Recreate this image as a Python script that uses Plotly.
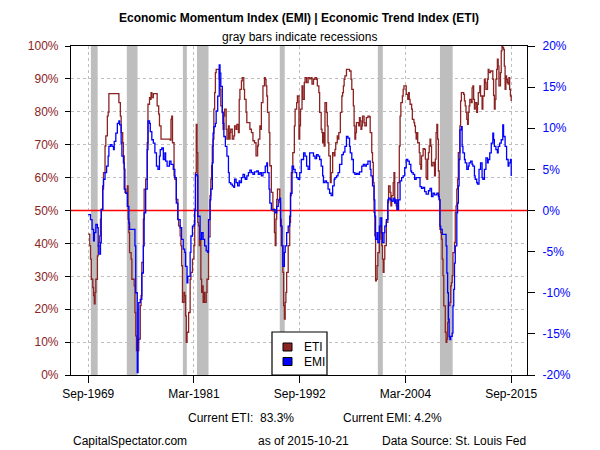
import pandas as pd
import plotly.graph_objects as go

# ---- data (monthly, %), turning points only ----
eti_dates = [
    "1969-09", "1969-11", "1969-12",
    "1970-01", "1970-03", "1970-04", "1970-05", "1970-06", "1970-07", "1970-09", "1970-10", "1970-11", "1970-12",
    "1971-01", "1971-02", "1971-04", "1971-05", "1971-07", "1971-08", "1971-10", "1971-11", "1971-12",
    "1972-12",
    "1973-01", "1973-03", "1973-04", "1973-06", "1973-07", "1973-08", "1973-09", "1973-12",
    "1974-01", "1974-02", "1974-03", "1974-05", "1974-06", "1974-09", "1974-10", "1974-11", "1974-12",
    "1975-01", "1975-03", "1975-04", "1975-05", "1975-06", "1975-07", "1975-09", "1975-10", "1975-12",
    "1976-01", "1976-02", "1976-03", "1976-04", "1976-05", "1976-06", "1976-07", "1976-08", "1976-10",
    "1977-02", "1977-03", "1977-05", "1977-06", "1977-08",
    "1978-08", "1978-09", "1978-10", "1978-11",
    "1979-01", "1979-02", "1979-04", "1979-06", "1979-07", "1979-09", "1979-10", "1979-11", "1979-12",
    "1980-02", "1980-03", "1980-04", "1980-05", "1980-06", "1980-08", "1980-10", "1980-11",
    "1981-01", "1981-03", "1981-04", "1981-05", "1981-06", "1981-07", "1981-08", "1981-09", "1981-10", "1981-11", "1981-12",
    "1982-01", "1982-02", "1982-03", "1982-04", "1982-05", "1982-07", "1982-08", "1982-10", "1982-12",
    "1983-01", "1983-02", "1983-03", "1983-04", "1983-05", "1983-06", "1983-07", "1983-08", "1983-11", "1983-12",
    "1984-01", "1984-02", "1984-04", "1984-05", "1984-06", "1984-07", "1984-09", "1984-10", "1984-12",
    "1985-01", "1985-02", "1985-03", "1985-05", "1985-07", "1985-08", "1985-10", "1985-11",
    "1986-01", "1986-02", "1986-03", "1986-05", "1986-06", "1986-08", "1986-09", "1986-11", "1986-12",
    "1987-02", "1987-04", "1987-06", "1987-08", "1987-10", "1987-12",
    "1988-02", "1988-03", "1988-05", "1988-06", "1988-07", "1988-09", "1988-11", "1988-12",
    "1989-01", "1989-02", "1989-03", "1989-05", "1989-06", "1989-08", "1989-10", "1989-11", "1989-12",
    "1990-01", "1990-02", "1990-03", "1990-04", "1990-06", "1990-07", "1990-08", "1990-09", "1990-11", "1990-12",
    "1991-01", "1991-02", "1991-03", "1991-04", "1991-06", "1991-08", "1991-09", "1991-10", "1991-12",
    "1992-02", "1992-03", "1992-05", "1992-06", "1992-08", "1992-09", "1992-10", "1992-12",
    "1993-01", "1993-03", "1993-04", "1993-06", "1993-08", "1993-10", "1993-12",
    "1994-01", "1994-03", "1994-05", "1994-07", "1994-08", "1994-10", "1994-11",
    "1995-01", "1995-02", "1995-03", "1995-04", "1995-05", "1995-06", "1995-08", "1995-09", "1995-10", "1995-11",
    "1996-01", "1996-02", "1996-04", "1996-06", "1996-07", "1996-08", "1996-10", "1996-11", "1996-12",
    "1997-02", "1997-04", "1997-05", "1997-06", "1997-07", "1997-08", "1997-10",
    "1998-01", "1998-02", "1998-04", "1998-05", "1998-07", "1998-08", "1998-09", "1998-10", "1998-11", "1998-12",
    "1999-02", "1999-03", "1999-04", "1999-05", "1999-06", "1999-07", "1999-08", "1999-09", "1999-10", "1999-12",
    "2000-02", "2000-04", "2000-05", "2000-07", "2000-08", "2000-09", "2000-10", "2000-11", "2000-12",
    "2001-01", "2001-02", "2001-03", "2001-05", "2001-06", "2001-07", "2001-08", "2001-09", "2001-10", "2001-11", "2001-12",
    "2002-02", "2002-04", "2002-05", "2002-07", "2002-08", "2002-09", "2002-11", "2002-12",
    "2003-01", "2003-03", "2003-04", "2003-05", "2003-07", "2003-08", "2003-09", "2003-11", "2003-12",
    "2004-01", "2004-03", "2004-04", "2004-06", "2004-07", "2004-08", "2004-09", "2004-11", "2004-12",
    "2005-02", "2005-03", "2005-04", "2005-05", "2005-06", "2005-07", "2005-09", "2005-10", "2005-11", "2005-12",
    "2006-02", "2006-04", "2006-05", "2006-06", "2006-07", "2006-08", "2006-09", "2006-10", "2006-11", "2006-12",
    "2007-01", "2007-03", "2007-05", "2007-06", "2007-07", "2007-08", "2007-09", "2007-10", "2007-11", "2007-12",
    "2008-01", "2008-02", "2008-03", "2008-04", "2008-05", "2008-07", "2008-08", "2008-09", "2008-10", "2008-11",
    "2009-01", "2009-02", "2009-03", "2009-04", "2009-05", "2009-07", "2009-08", "2009-09", "2009-10", "2009-11", "2009-12",
    "2010-02", "2010-03", "2010-04", "2010-05", "2010-07", "2010-08", "2010-09", "2010-10", "2010-11", "2010-12",
    "2011-01", "2011-02", "2011-03", "2011-05", "2011-06", "2011-07", "2011-08", "2011-09", "2011-10", "2011-12",
    "2012-01", "2012-02", "2012-04", "2012-05", "2012-07", "2012-08", "2012-10", "2012-11", "2012-12",
    "2013-02", "2013-03", "2013-04", "2013-06", "2013-07", "2013-09", "2013-10", "2013-11", "2013-12",
    "2014-01", "2014-02", "2014-03", "2014-04", "2014-05", "2014-07", "2014-08", "2014-09", "2014-10", "2014-11", "2014-12",
    "2015-01", "2015-02", "2015-03", "2015-04", "2015-05", "2015-06", "2015-07", "2015-08", "2015-09",
]
eti_values = [
    42.8, 39.3, 35.2,
    29.1, 26.6, 24.1, 21.6, 25.1, 29.1, 36.2, 39.3, 40.3, 42.3,
    47.4, 50.4, 56.5, 61.5, 69.6, 72.7, 78.7, 79.8, 85.5,
    85.5,
    82.8, 78.7, 73.7, 70.6, 66.6, 62.6, 55.5, 57.5,
    47.4, 43.3, 37.2, 35.2, 29.1, 27.1, 19.0, 11.9, 7.4,
    7.4, 10.9, 10.9, 21.1, 24.1, 34.2, 47.4, 56.5, 59.5,
    59.5, 70.6, 82.3, 82.3, 84.3, 83.8, 85.8, 84.3, 85.5,
    85.5, 81.8, 79.3, 75.7, 71.7,
    71.4, 77.7, 78.7, 70.6,
    60.5, 59.5, 53.4, 47.4, 45.3, 42.3, 39.3, 33.2, 22.1,
    25.1, 24.1, 18.0, 9.9, 13.0, 19.0, 29.1, 31.2,
    35.2, 39.3, 50.4, 61.5, 76.2, 67.6, 46.4, 45.3, 39.3, 41.3, 29.1,
    25.1, 27.1, 22.1, 25.1, 22.1, 25.1, 29.1, 42.0, 54.5,
    59.5, 63.6, 69.6, 71.7, 80.8, 85.8, 91.9, 92.9, 92.9, 89.9,
    86.8, 81.8, 79.8, 74.7, 78.7, 80.8, 74.7, 71.7, 75.7,
    71.7, 73.7, 74.7, 71.7, 72.7, 75.7, 74.7, 76.2,
    73.7, 83.8, 86.8, 89.4, 90.4, 86.8, 83.8, 79.8, 76.7,
    76.7, 74.7, 73.7, 71.2, 70.6, 66.6,
    69.6, 71.7, 75.7, 74.7, 82.8, 87.9, 90.4, 89.9,
    87.9, 84.8, 79.8, 73.7, 63.6, 55.5, 49.9, 50.4, 43.3,
    39.3, 47.4, 53.4, 56.5, 56.5, 52.4, 47.4, 39.3, 31.2, 21.1,
    17.0, 22.1, 25.1, 31.2, 39.3, 46.4, 54.5, 61.5, 67.6,
    75.7, 80.8, 82.8, 84.8, 71.7, 75.7, 80.8, 87.9,
    83.8, 88.9, 90.4, 88.9, 90.4, 90.0, 90.4,
    88.4, 89.9, 90.4, 89.9, 87.9, 85.8, 79.8,
    74.7, 73.7, 70.6, 73.7, 69.6, 82.8, 79.8, 75.7, 70.6, 66.6,
    58.5, 61.5, 67.6, 66.6, 68.6, 70.6, 72.7, 71.7, 73.7,
    79.8, 84.8, 85.8, 87.9, 89.9, 90.9, 92.9,
    92.9, 92.4, 89.9, 86.8, 81.8, 75.7, 71.7, 73.7, 76.7, 76.7,
    75.7, 78.2, 77.2, 74.7, 75.7, 78.7, 78.7, 76.7, 75.7, 78.2,
    78.7, 78.5, 73.7, 67.6, 64.6, 58.5, 49.4, 42.3, 28.6,
    29.1, 33.2, 37.2, 41.3, 45.3, 43.3, 39.3, 35.2, 31.2, 35.2, 39.3,
    46.4, 52.4, 57.5, 55.5, 51.4, 54.5, 58.5, 61.5,
    52.4, 51.4, 50.4, 58.5, 69.6, 78.7, 82.8, 84.8, 86.8,
    87.9, 87.9, 85.3, 83.8, 85.8, 83.8, 82.3, 80.8, 77.7,
    76.7, 75.7, 73.7, 71.7, 73.7, 70.6, 67.6, 64.0, 62.6, 66.6,
    68.8, 68.6, 65.6, 60.0, 59.5, 65.6, 67.6, 69.6, 71.7, 69.6,
    63.6, 64.6, 60.5, 65.6, 73.7, 76.2, 71.7, 62.0, 53.4, 44.3,
    43.3, 41.3, 35.2, 30.2, 21.0, 13.0, 9.9, 10.9, 16.0, 21.1,
    22.1, 27.1, 28.1, 30.2, 37.2, 40.3, 49.4, 51.4, 56.5, 59.5, 67.6,
    75.7, 83.3, 85.8, 85.8, 85.3, 83.3, 81.8, 79.8, 77.7, 76.2,
    79.8, 81.8, 83.8, 82.8, 87.3, 87.9, 83.8, 80.8, 82.8, 79.8,
    82.3, 85.8, 87.9, 84.8, 80.8, 84.8, 89.9, 88.9, 86.8,
    89.9, 92.9, 91.9, 92.4, 92.4, 89.9, 85.0, 80.8, 83.8,
    89.9, 92.9, 96.0, 93.9, 87.9, 91.9, 98.5, 100.0, 99.5, 99.0, 93.9,
    86.8, 90.9, 89.9, 88.9, 88.4, 90.4, 86.8, 84.8, 83.3,
]

emi_dates = [
    "1969-09", "1969-12",
    "1970-02", "1970-04", "1970-05", "1970-07", "1970-09", "1970-10", "1970-11",
    "1971-01", "1971-02", "1971-04", "1971-05", "1971-07", "1971-09", "1971-11", "1971-12",
    "1972-02", "1972-04", "1972-06", "1972-07", "1972-09", "1972-11",
    "1973-01", "1973-02", "1973-04", "1973-05", "1973-07", "1973-08", "1973-10", "1973-12",
    "1974-02", "1974-03", "1974-09", "1974-10", "1974-11", "1974-12",
    "1975-01", "1975-02", "1975-03", "1975-05", "1975-07", "1975-09", "1975-10", "1975-12",
    "1976-02", "1976-03", "1976-05", "1976-06", "1976-08", "1976-10", "1976-12",
    "1977-02", "1977-04", "1977-06", "1977-07", "1977-09", "1977-11",
    "1978-01", "1978-02", "1978-04", "1978-07", "1978-09", "1978-12",
    "1979-02", "1979-04", "1979-06", "1979-09", "1979-11",
    "1980-01", "1980-03", "1980-04", "1980-06", "1980-07", "1980-10", "1980-11",
    "1981-01", "1981-03", "1981-04", "1981-05", "1981-07", "1981-08", "1981-11",
    "1982-01", "1982-03", "1982-05", "1982-07", "1982-09", "1982-10", "1982-12",
    "1983-01", "1983-03", "1983-04", "1983-05", "1983-07", "1983-08", "1983-10", "1983-12",
    "1984-01", "1984-02", "1984-04", "1984-05", "1984-06", "1984-08", "1984-10", "1984-12",
    "1985-01", "1985-03", "1985-05", "1985-07", "1985-08", "1985-10", "1985-12",
    "1986-02", "1986-03", "1986-05", "1986-07", "1986-09", "1986-10", "1986-12",
    "1987-02", "1987-04", "1987-06", "1987-08", "1987-10",
    "1988-01", "1988-03", "1988-05", "1988-07", "1988-09", "1988-12",
    "1989-02", "1989-03", "1989-05", "1989-06", "1989-08", "1989-10",
    "1990-01", "1990-03", "1990-05", "1990-07", "1990-08", "1990-10", "1990-11",
    "1991-01", "1991-02", "1991-04", "1991-06", "1991-08", "1991-09", "1991-11",
    "1992-01", "1992-03", "1992-05", "1992-07", "1992-09", "1992-11",
    "1993-02", "1993-04", "1993-06", "1993-08", "1993-10", "1993-12",
    "1994-03", "1994-05", "1994-07", "1994-09", "1994-11",
    "1995-01", "1995-03", "1995-04", "1995-06", "1995-08", "1995-10", "1995-12",
    "1996-02", "1996-04", "1996-06", "1996-07", "1996-09", "1996-11",
    "1997-01", "1997-04", "1997-06", "1997-08", "1997-10", "1997-12",
    "1998-02", "1998-03", "1998-05", "1998-07", "1998-09", "1998-11",
    "1999-01", "1999-03", "1999-06", "1999-08", "1999-10", "1999-12",
    "2000-02", "2000-05", "2000-06", "2000-08", "2000-10", "2000-11", "2000-12",
    "2001-02", "2001-03", "2001-05", "2001-06", "2001-08", "2001-09", "2001-11", "2001-12",
    "2002-02", "2002-04", "2002-05", "2002-07", "2002-09", "2002-11",
    "2003-01", "2003-02", "2003-04", "2003-06", "2003-08", "2003-10", "2003-12",
    "2004-02", "2004-04", "2004-06", "2004-08", "2004-10", "2004-11",
    "2005-01", "2005-03", "2005-05", "2005-08", "2005-10", "2005-12",
    "2006-02", "2006-04", "2006-06", "2006-09", "2006-11",
    "2007-01", "2007-03", "2007-05", "2007-08", "2007-10", "2007-11", "2007-12",
    "2008-01", "2008-03", "2008-07", "2008-08", "2008-09", "2008-10", "2008-11", "2008-12",
    "2009-01", "2009-02", "2009-04", "2009-05", "2009-06", "2009-07", "2009-08", "2009-10", "2009-11", "2009-12",
    "2010-01", "2010-02", "2010-04", "2010-05", "2010-06", "2010-08", "2010-09", "2010-11",
    "2011-01", "2011-02", "2011-04", "2011-06", "2011-07", "2011-09", "2011-10", "2011-12",
    "2012-01", "2012-03", "2012-05", "2012-07", "2012-08", "2012-10", "2012-12",
    "2013-02", "2013-03", "2013-05", "2013-07", "2013-09", "2013-10", "2013-11",
    "2014-01", "2014-03", "2014-04", "2014-06", "2014-08", "2014-10", "2014-11",
    "2015-01", "2015-03", "2015-05", "2015-06", "2015-08", "2015-09",
]
emi_values = [
    -0.5, -1.1,
    -2.3, -3.7, -2.7, -1.7, -2.1, -4.3, -5.3,
    -3.9, 0.1, 3.0, 3.8, 4.6, 5.4, 6.6, 7.8,
    8.0, 7.8, 7.4, 8.4, 9.4, 10.6,
    10.9, 10.4, 8.2, 6.6, 5.8, 2.6, 2.1, 0.5,
    -1.5, -2.3, -2.3, -4.3, -10.0, -10.0,
    -19.7, -15.7, -11.2, -10.8, -7.6, -4.3, -0.3, 2.6,
    7.4, 10.9, 10.6, 9.6, 8.6, 8.2, 7.0,
    5.4, 5.0, 6.6, 7.4, 7.6, 6.2,
    7.0, 6.0, 5.4, 6.0, 5.6, 5.0,
    4.0, 0.9, -1.1, -2.1, -3.5,
    -4.7, -5.1, -6.8, -8.8, -8.0, -5.1, -3.1,
    -1.9, -1.7, 0.0, 4.4, 4.2, -0.7, -3.5,
    -2.7, -3.5, -4.3, -4.9, -5.1, -1.1, 1.3,
    2.6, 5.8, 9.4, 10.2, 10.6, 12.1, 13.9, 17.7,
    16.7, 15.1, 11.9, 10.6, 9.0, 7.8, 6.6, 4.6,
    3.4, 3.2, 3.0, 2.8, 3.8, 3.4, 3.0,
    3.6, 3.4, 4.0, 4.4, 4.0, 3.8, 4.2,
    4.6, 4.9, 4.6, 4.4, 4.7,
    4.8, 4.4, 4.6, 4.2, 4.6, 5.4,
    5.8, 4.6, 2.6, 0.9, 0.1, 0.1,
    -0.3, 0.5, 1.3, 1.5, -1.9, -4.3, -6.8,
    -5.1, -4.3, -2.7, -1.9, -0.7, 2.1, 5.4,
    5.0, 4.6, 4.0, 3.8, 4.6, 6.2,
    7.0, 6.6, 5.4, 5.0, 7.0, 7.0,
    6.6, 6.3, 6.8, 6.6, 6.2,
    5.4, 4.2, 3.4, 3.6, 3.4, 2.6, 2.1,
    1.8, 3.0, 3.8, 4.0, 4.2, 4.6,
    5.6, 6.8, 7.1, 7.8, 9.0, 8.8,
    7.8, 7.0, 6.2, 4.6, 4.4, 4.5,
    4.4, 4.7, 5.4, 5.6, 5.4, 5.6,
    6.0, 5.0, 4.2, 3.0, 1.3, -0.7, -3.5,
    -2.7, -3.9, -1.9, -0.9, -2.7, -3.9, -2.7, -1.9,
    -1.1, 1.3, 1.5, 1.3, 1.1, 1.5,
    0.9, 1.3, 0.1, 1.3, 3.6, 4.0, 4.2,
    5.2, 6.2, 6.0, 5.6, 4.8, 4.6,
    4.4, 3.8, 4.0, 4.0, 2.9, 2.7,
    2.8, 2.3, 2.0, 2.4, 2.7,
    1.7, 2.1, 1.9, 2.1, 1.7, 1.3, -1.9,
    -2.3, -2.9, -2.9, -4.3, -7.6, -10.0, -13.2, -15.3,
    -15.7, -15.3, -14.9, -11.6, -9.6, -6.4, -4.3, -0.3, 0.9, 3.0,
    6.2, 9.8, 10.2, 7.8, 7.0, 6.2, 5.8, 5.0,
    5.4, 5.8, 6.0, 5.6, 5.4, 4.2, 3.8, 3.4,
    3.2, 5.0, 5.8, 4.0, 3.8, 5.0, 6.4,
    5.8, 6.2, 7.0, 8.2, 9.4, 8.6, 7.8,
    7.4, 7.0, 7.8, 8.2, 8.6, 10.4, 9.0,
    7.8, 6.2, 5.4, 5.8, 6.2, 4.2,
]

assert len(eti_dates) == len(eti_values)
assert len(emi_dates) == len(emi_values)

# recession bars as drawn in the reference
rec_start = ["1969-12-15", "1973-11-12", "1979-12-18", "1981-07-01", "1990-07-01", "2001-03-01", "2007-12-01"]
rec_end = ["1970-09-10", "1975-01-12", "1980-05-24", "1982-10-01", "1991-01-15", "2001-09-15", "2009-04-20"]

x_range = ["1967-10-18", "2017-05-20"]
x_ticks = ["1969-09-01", "1981-03-01", "1992-09-01", "2004-03-01", "2015-09-01"]
x_labels = ["Sep-1969", "Mar-1981", "Sep-1992", "Mar-2004", "Sep-2015"]
eti_ticks = list(range(0, 101, 10))
eti_labels = [f"{v}%" for v in eti_ticks]
emi_ticks = list(range(-20, 21, 5))
emi_labels = [f"{v}%" for v in emi_ticks]
neutral_eti = 50  # ETI 50% == EMI 0%

ETI_COLOR = "#8B2323"
EMI_COLOR = "#0000FF"
GRID = "#BEBEBE"
FONT = "Liberation Sans, Arial, sans-serif"

# the page adds an 8px body margin, so the figure is drawn 8px smaller
W, H, PAD = 600, 450, 8
# plot area in screen pixels (left, right, top, bottom)
PL, PR, PT, PB = 71, 527, 46, 375


def px_x(px):
    return (px - PL) / (PR - PL)


def px_y(py):
    return (PB - py) / (PB - PT)


fig = go.Figure()

# recession bars as filled traces so they sit above the grid, below the lines
for s, e in zip(rec_start, rec_end):
    fig.add_trace(go.Scatter(
        x=[s, s, e, e, s], y=[0, 100, 100, 0, 0], mode="lines",
        fill="toself", fillcolor=GRID, line=dict(width=0),
        hoverinfo="skip", showlegend=False, yaxis="y",
    ))

fig.add_trace(go.Scatter(
    x=x_range, y=[neutral_eti, neutral_eti], mode="lines",
    line=dict(color="red", width=1.3), hoverinfo="skip", showlegend=False, yaxis="y",
))

fig.add_trace(go.Scatter(
    x=pd.to_datetime(eti_dates), y=eti_values, mode="lines", name="ETI",
    line=dict(color=ETI_COLOR, width=1.3, shape="hv"),
    showlegend=False, yaxis="y",
))
fig.add_trace(go.Scatter(
    x=pd.to_datetime(emi_dates), y=emi_values, mode="lines", name="EMI",
    line=dict(color=EMI_COLOR, width=1.3, shape="hv"),
    showlegend=False, yaxis="y2",
))

# hand-drawn legend box (R style, square keys)
fig.add_shape(type="rect", xref="paper", yref="paper",
              x0=px_x(272), x1=px_x(327), y0=px_y(375), y1=px_y(332),
              fillcolor="white", line=dict(color="black", width=1.2), layer="above")
for name, col, cy in [("ETI", ETI_COLOR, 347), ("EMI", EMI_COLOR, 361.5)]:
    fig.add_shape(type="rect", xref="paper", yref="paper",
                  x0=px_x(283), x1=px_x(292), y0=px_y(cy + 4), y1=px_y(cy - 4),
                  fillcolor=col, line=dict(color="black", width=1), layer="above")
    fig.add_annotation(text=name, x=px_x(302), y=px_y(cy), xref="paper", yref="paper",
                       xanchor="left", yanchor="middle", showarrow=False,
                       font=dict(size=12, color="black"))

fig.update_layout(
    width=W - PAD, height=H - PAD,
    margin=dict(l=PL - PAD, r=W - PR, t=PT - PAD, b=H - PB),
    paper_bgcolor="white", plot_bgcolor="white", showlegend=False,
    font=dict(family=FONT, size=12, color="black"),
    title=dict(text="<b>Economic Momentum Index (EMI) | Economic Trend Index (ETI)</b>",
               x=0.5, xref="paper", xanchor="center",
               y=1 - (18 - PAD) / (H - PAD), yanchor="middle", font=dict(size=12)),
    xaxis=dict(
        type="date", range=x_range,
        tickvals=x_ticks, ticktext=x_labels,
        showgrid=True, gridcolor=GRID, griddash="dot", gridwidth=1,
        ticks="outside", ticklen=7, tickcolor="black",
        showline=True, linecolor="black", linewidth=1.2, mirror=True,
        zeroline=False, tickfont=dict(size=12, color="black"),
    ),
    yaxis=dict(
        range=[0, 100], tickvals=eti_ticks, ticktext=eti_labels,
        showgrid=True, gridcolor=GRID, griddash="dot", gridwidth=1,
        ticks="outside", ticklen=5, tickcolor="black", ticklabelstandoff=4,
        showline=True, linecolor="black", linewidth=1.2,
        zeroline=False, tickfont=dict(size=12, color=ETI_COLOR),
    ),
    yaxis2=dict(
        range=[-20, 20], overlaying="y", side="right",
        tickvals=emi_ticks, ticktext=emi_labels,
        showgrid=False, ticks="outside", ticklen=7, tickcolor="black", ticklabelstandoff=5,
        showline=True, linecolor="black", linewidth=1.2,
        zeroline=False, tickfont=dict(size=12, color=EMI_COLOR),
    ),
)

# subtitle and footer texts
notes = [
    ("gray bars indicate recessions", 299, 37),
    (f"Current ETI:  {eti_values[-1]:.1f}%", 241, 418),
    (f"Current EMI: {emi_values[-1]:.1f}%", 392, 418),
    ("CapitalSpectator.com", 130, 441),
    ("as of 2015-10-21", 303, 441),
    ("Data Source: St. Louis Fed", 454, 441),
]
for text, sx, sy in notes:
    fig.add_annotation(text=text, x=px_x(sx), y=px_y(sy), xref="paper", yref="paper",
                       xanchor="center", yanchor="middle", showarrow=False,
                       font=dict(size=12, color="black"))

fig.write_html("out.html")
